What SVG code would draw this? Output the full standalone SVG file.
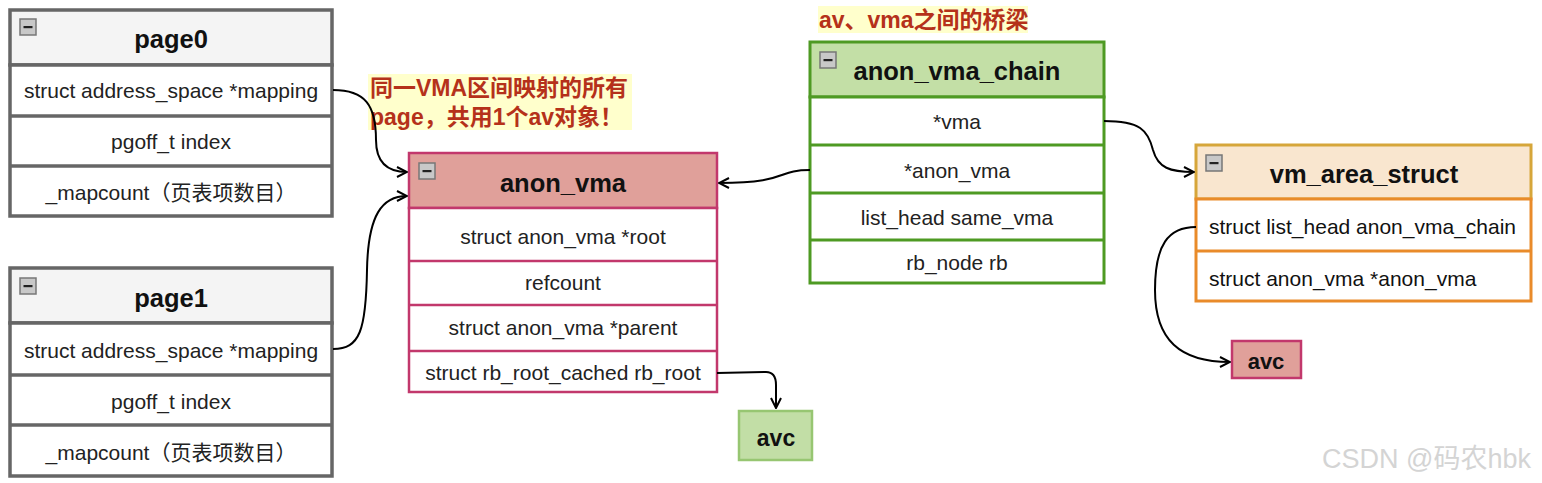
<svg xmlns="http://www.w3.org/2000/svg" width="1542" height="483" viewBox="0 0 1542 483">
<style>
text{font-family:"Liberation Sans","Noto Sans CJK SC",sans-serif;}
.f{font-size:21px;fill:#222;text-anchor:middle;}
.fl{font-size:21px;fill:#111;}
.t{font-size:25.5px;font-weight:bold;fill:#111;text-anchor:middle;}
.a{font-size:23px;font-weight:bold;fill:#111;text-anchor:middle;}
.gray{stroke:#666;stroke-width:3.5;}
.pink{stroke:#c2386c;stroke-width:2.5;}
.green{stroke:#4e9a23;stroke-width:3;}
.orange{stroke:#e98b2a;stroke-width:3;}
.note{font-size:23px;font-weight:bold;fill:#b5311a;}
.con{fill:none;stroke:#000;stroke-width:2;}
</style>
<defs>
<marker id="arr" viewBox="0 0 12 12" refX="11" refY="6" markerWidth="12" markerHeight="12" markerUnits="userSpaceOnUse" orient="auto">
<path d="M1,1 L11,6 L1,11" fill="none" stroke="#000" stroke-width="2"/>
</marker>
<g id="minus">
<rect x="0" y="0" width="16" height="16" fill="#c8c8c8" stroke="#777" stroke-width="1.5"/>
<rect x="3.5" y="7" width="9" height="2.2" fill="#222"/>
</g>
</defs>

<g id="page0">
<rect x="10" y="10" width="322" height="55" fill="#f4f4f4" class="gray"/>
<rect x="10" y="65" width="322" height="151" fill="#fff" class="gray"/>
<line x1="10" y1="116" x2="332" y2="116" class="gray"/>
<line x1="10" y1="166" x2="332" y2="166" class="gray"/>
<use href="#minus" x="20" y="19"/>
<text x="171" y="48" class="t">page0</text>
<text x="171" y="98" class="f">struct address_space *mapping</text>
<text x="171" y="149" class="f">pgoff_t index</text>
<text x="171" y="200" class="f">_mapcount（页表项数目）</text>
</g>

<g id="page1">
<rect x="10" y="268" width="322" height="55" fill="#f4f4f4" class="gray"/>
<rect x="10" y="323" width="322" height="153" fill="#fff" class="gray"/>
<line x1="10" y1="375" x2="332" y2="375" class="gray"/>
<line x1="10" y1="425" x2="332" y2="425" class="gray"/>
<use href="#minus" x="20" y="278"/>
<text x="171" y="307" class="t">page1</text>
<text x="171" y="358" class="f">struct address_space *mapping</text>
<text x="171" y="409" class="f">pgoff_t index</text>
<text x="171" y="460" class="f">_mapcount（页表项数目）</text>
</g>

<g id="note1">
<rect x="368" y="74" width="264" height="56" fill="#ffffcc"/>
<text x="370" y="96" class="note">同一VMA区间映射的所有</text>
<text x="370" y="125" class="note">page，共用1个av对象！</text>
</g>

<g id="anon_vma">
<rect x="409" y="153" width="308" height="55" fill="#e0a09a" class="pink"/>
<rect x="409" y="208" width="308" height="184" fill="#fff" class="pink"/>
<line x1="409" y1="261" x2="717" y2="261" class="pink"/>
<line x1="409" y1="305" x2="717" y2="305" class="pink"/>
<line x1="409" y1="351" x2="717" y2="351" class="pink"/>
<use href="#minus" x="419" y="163"/>
<text x="563" y="192" class="t">anon_vma</text>
<text x="563" y="244" class="f">struct anon_vma *root</text>
<text x="563" y="290" class="f">refcount</text>
<text x="563" y="335" class="f">struct anon_vma *parent</text>
<text x="563" y="380" class="f">struct rb_root_cached rb_root</text>
</g>

<g id="avc_green">
<rect x="739" y="411" width="73" height="49" fill="#c2dea6" stroke="#97c672" stroke-width="2.5"/>
<text x="776" y="446" class="a">avc</text>
</g>

<g id="note2">
<rect x="818" y="6" width="210" height="27" fill="#ffffcc"/>
<text x="819" y="28" class="note">av、vma之间的桥梁</text>
</g>

<g id="anon_vma_chain">
<rect x="810" y="42" width="294" height="55" fill="#c3dfa6" class="green"/>
<rect x="810" y="97" width="294" height="186" fill="#fff" class="green"/>
<line x1="810" y1="145" x2="1104" y2="145" class="green"/>
<line x1="810" y1="193" x2="1104" y2="193" class="green"/>
<line x1="810" y1="240" x2="1104" y2="240" class="green"/>
<use href="#minus" x="820" y="52"/>
<text x="957" y="80" class="t">anon_vma_chain</text>
<text x="957" y="129" class="f">*vma</text>
<text x="957" y="178" class="f">*anon_vma</text>
<text x="957" y="225" class="f">list_head same_vma</text>
<text x="957" y="270" class="f">rb_node rb</text>
</g>

<g id="vm_area_struct">
<rect x="1196" y="145" width="335" height="54" fill="#f9e6cf" stroke="#d6a63a" stroke-width="3"/>
<rect x="1196" y="199" width="335" height="102" fill="#fff" class="orange"/>
<line x1="1196" y1="251" x2="1531" y2="251" class="orange"/>
<use href="#minus" x="1206" y="155"/>
<text x="1364" y="183" class="t">vm_area_struct</text>
<text x="1209" y="234" class="fl">struct list_head anon_vma_chain</text>
<text x="1209" y="286" class="fl">struct anon_vma *anon_vma</text>
</g>

<g id="avc_pink">
<rect x="1232" y="341" width="69" height="37" fill="#e0a09a" class="pink"/>
<text x="1266" y="369" class="a" style="font-size:22px">avc</text>
</g>

<g id="connectors">
<path class="con" d="M333 90 C365 90 376 105 376 140 C376 165 390 172 407 172" marker-end="url(#arr)"/>
<path class="con" d="M333 349 C360 349 366 330 367 270 C368 215 382 196 407 196" marker-end="url(#arr)"/>
<path class="con" d="M810 170 C775 170 790 183 719 183" marker-end="url(#arr)"/>
<path class="con" d="M1104 121 C1140 121 1148 130 1153 150 C1158 168 1170 172 1194 172" marker-end="url(#arr)"/>
<path class="con" d="M1196 227 C1168 227 1155 245 1155 290 C1155 340 1180 362 1230 362" marker-end="url(#arr)"/>
<path class="con" d="M717 373 L766 372 C772 372 776 376 776 385 L776 408" marker-end="url(#arr)"/>
</g>

<text x="1322" y="468" style="font-size:27px;fill:#d4d4d4;">CSDN @码农hbk</text>
</svg>
